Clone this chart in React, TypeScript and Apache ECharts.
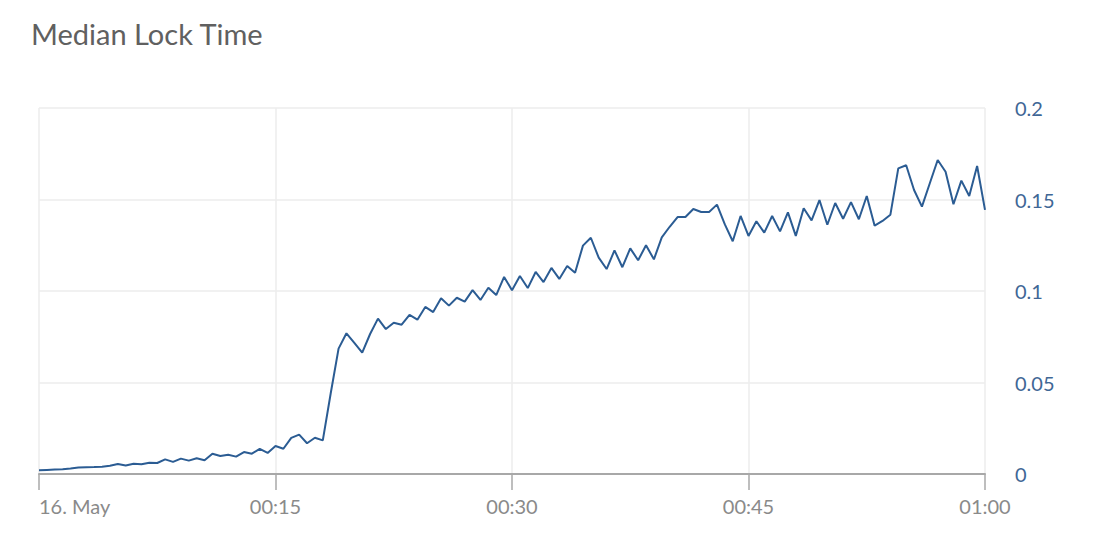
import React, { useEffect, useRef } from "react";
import * as echarts from "echarts";

// minutes after 16 May 00:00, one sample every 30 s
const minutes: number[] = Array.from({ length: 121 }, (_, i) => i * 0.5);

const lockTime: number[] = [
  0.0020, 0.0022, 0.0024, 0.0026, 0.0030, 0.0035, 0.0037, 0.0038, 0.0040, 0.0045,
  0.0055, 0.0047, 0.0056, 0.0053, 0.0062, 0.0060, 0.0080, 0.0066, 0.0084, 0.0073,
  0.0086, 0.0075, 0.0111, 0.0098, 0.0105, 0.0095, 0.0120, 0.0111, 0.0137, 0.0115,
  0.0153, 0.0138, 0.0197, 0.0215, 0.0168, 0.0198, 0.0184, 0.0440, 0.0685, 0.0769,
  0.0717, 0.0663, 0.0765, 0.0849, 0.0792, 0.0827, 0.0816, 0.0869, 0.0843, 0.0913,
  0.0885, 0.0960, 0.0920, 0.0963, 0.0942, 0.1005, 0.0951, 0.1018, 0.0978, 0.1077,
  0.1004, 0.1082, 0.1016, 0.1104, 0.1049, 0.1126, 0.1066, 0.1137, 0.1100, 0.1248,
  0.1291, 0.1182, 0.1120, 0.1222, 0.1130, 0.1233, 0.1168, 0.1250, 0.1173, 0.1293,
  0.1351, 0.1404, 0.1404, 0.1448, 0.1432, 0.1432, 0.1472, 0.1364, 0.1272, 0.1410,
  0.1301, 0.1381, 0.1319, 0.1410, 0.1326, 0.1430, 0.1301, 0.1452, 0.1386, 0.1497,
  0.1362, 0.1481, 0.1395, 0.1486, 0.1392, 0.1519, 0.1357, 0.1383, 0.1417, 0.1670,
  0.1687, 0.1552, 0.1461, 0.1589, 0.1716, 0.1652, 0.1474, 0.1603, 0.1519, 0.1683,
  0.1443,
];

const xTickValues: number[] = [0, 15, 30, 45, 60];
const xTickLabels: string[] = ["16. May", "00:15", "00:30", "00:45", "01:00"];

const titleText = "Median Lock Time";

export default function App() {
  const ref = useRef<HTMLDivElement>(null);

  useEffect(() => {
    if (!ref.current) return;
    const chart = echarts.init(ref.current, undefined, { renderer: "svg" });
    const font = "Lato, 'Open Sans', sans-serif";
    chart.setOption({
      animation: false,
      backgroundColor: "#ffffff",
      title: {
        text: titleText,
        left: 26,
        top: 14,
        textStyle: {
          fontFamily: font,
          fontSize: 29,
          fontWeight: "normal",
          color: "#606060",
        },
      },
      grid: { left: 39, right: 115, top: 108, bottom: 80, containLabel: false },
      xAxis: {
        type: "value",
        min: 0,
        max: 60,
        interval: 15,
        axisLine: { show: true, lineStyle: { color: "#a8a8a8", width: 2 } },
        axisTick: { show: true, length: 16, lineStyle: { color: "#a8a8a8", width: 1.5 } },
        splitLine: { show: true, lineStyle: { color: "#ececec", width: 1.5 } },
        axisLabel: {
          margin: 22,
          fontFamily: font,
          fontSize: 20,
          color: "#8a8a8a",
          alignMinLabel: "left",
          formatter: (v: number) => {
            const idx = xTickValues.indexOf(v);
            return idx >= 0 ? xTickLabels[idx] : "";
          },
        },
      },
      yAxis: {
        type: "value",
        position: "right",
        min: 0,
        max: 0.2,
        interval: 0.05,
        axisLine: { show: false },
        axisTick: { show: false },
        splitLine: { show: true, lineStyle: { color: "#ececec", width: 1.5 } },
        axisLabel: {
          margin: 30,
          fontFamily: font,
          fontSize: 20,
          color: "#3f6796",
          formatter: (v: number) => String(Math.round(v * 100) / 100),
        },
      },
      series: [
        {
          type: "line",
          data: minutes.map((m, i) => [m, lockTime[i]]),
          showSymbol: false,
          symbol: "none",
          lineStyle: { color: "#2b5c93", width: 2 },
          itemStyle: { color: "#2b5c93" },
        },
      ],
    });
    return () => chart.dispose();
  }, []);

  return (
    <div
      ref={ref}
      style={{ position: "absolute", left: 0, top: 0, width: 1100, height: 554, background: "#fff" }}
    />
  );
}
